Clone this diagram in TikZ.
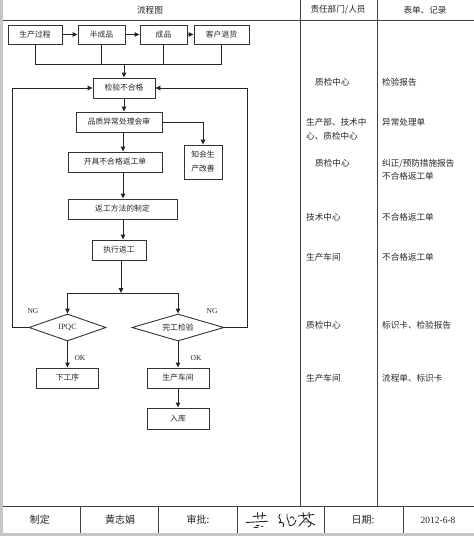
\documentclass[tikz,border=0pt]{standalone}
\usepackage{fontspec}
\setmainfont{Liberation Serif}
\newfontfamily\cjk{Noto Sans CJK SC}
\usetikzlibrary{shapes.geometric,arrows.meta}
\begin{document}
\begin{tikzpicture}[x=1pt,y=-1pt,
  box/.style={draw=black!80, line width=0.9pt, inner sep=0pt, font=\cjk\fontsize{7.8}{14}\selectfont, align=center, text=black!85},
  dia/.style={draw=black!80, line width=0.9pt, diamond, inner sep=0pt, aspect=2.9, font=\fontsize{8}{10}\selectfont, text=black!85},
  arr/.style={draw=black!85, line width=0.9pt, -{Triangle[length=5pt,width=4.5pt]}},
  ln/.style={draw=black!85, line width=0.9pt},
  grid/.style={draw=black!75, line width=0.8pt},
  col/.style={anchor=west, font=\cjk\fontsize{8.6}{13.5}\selectfont, align=left, text=black!85, inner sep=0pt},
  hdr/.style={font=\cjk\fontsize{8.6}{10}\selectfont, text=black!85, inner sep=0pt},
  foot/.style={font=\cjk\fontsize{10}{12}\selectfont, text=black!85, inner sep=0pt},
  lab/.style={font=\fontsize{7.5}{9}\selectfont, text=black!85, inner sep=0pt},
  sig/.style={draw=black!85, line width=0.9pt, line cap=round, line join=round}
]
\useasboundingbox (0,0) rectangle (474,536);
\fill[white] (0,0) rectangle (474,536);
% table frame
\fill[gray!45] (0,0) rectangle (3,536);
\fill[gray!45] (0,533) rectangle (474,536);
\draw[grid] (3,20) -- (474,20);
\draw[grid] (300,0) -- (300,506);
\draw[grid] (377,0) -- (377,506);
\draw[grid] (3,506) -- (474,506);
\foreach \x in {80,158,237,324,403} \draw[grid] (\x,506) -- (\x,533);
% headers
\node[hdr] (h1) at (150,10) {流程图};
\node[hdr] (h2) at (338,10) {责任部门/人员};
\node[hdr] (h3) at (425,10) {表单、记录};
% footer
\node[foot] (f1) at (40,520) {制定};
\node[foot] (f2) at (120,520) {黄志娟};
\node[foot] (f3) at (198,520) {审批:};
\node[foot] (f5) at (363,520) {日期:};
\node[foot, font=\fontsize{9.5}{11}\selectfont] (f6) at (438,520) {2012-6-8};
% signature strokes
\draw[sig] (246,522.5) .. controls (255,522) .. (268,521.2);
\draw[sig] (253,516.5) -- (266,515.5);
\draw[sig] (257.5,512.5) -- (258,519);
\draw[sig] (262.5,512.5) -- (262,519);
\draw[sig] (256,525.5) -- (259,525.3);
\draw[sig] (261.5,526) -- (263,526);
\draw[sig] (254,527.5) -- (258,527.3);
\draw[sig] (280,514) .. controls (276,519) and (284,518) .. (279,523) .. controls (283,521) and (285,524) .. (283,527);
\draw[sig] (287,514) .. controls (286,519) and (290,522) .. (289,525) .. controls (292,527) and (295,524) .. (296,520);
\draw[sig] (290,518) .. controls (292,516) .. (294,519);
\draw[sig] (298,516) -- (314,514.5);
\draw[sig] (303,512.5) -- (304,519);
\draw[sig] (309,512) -- (309.5,518);
\draw[sig] (306,518) .. controls (303,522) .. (299,526);
\draw[sig] (306,518) .. controls (309,522) .. (315,525);
\draw[sig] (304,522) -- (311,522) .. controls (311,525) .. (308,527);
% flow nodes
\node[box, minimum width=54pt, minimum height=19pt] (sc) at (35,34.5) {生产过程};
\node[box, minimum width=47pt, minimum height=19pt] (bcp) at (101.5,34.5) {半成品};
\node[box, minimum width=47pt, minimum height=19pt] (cp) at (163.5,34.5) {成品};
\node[box, minimum width=55pt, minimum height=19pt] (kh) at (221.5,34.5) {客户退货};
\node[box, minimum width=62pt, minimum height=20pt] (jy) at (124,88) {检验不合格};
\node[box, minimum width=86pt, minimum height=20pt] (pz) at (119,122) {品质异常处理会审};
\node[box, minimum width=38pt, minimum height=34pt] (zh) at (203,162) {知会生\\产改善};
\node[box, minimum width=94pt, minimum height=20pt] (kj) at (115,162) {开具不合格返工单};
\node[box, minimum width=109pt, minimum height=20pt] (fg) at (122.5,209) {返工方法的制定};
\node[box, minimum width=54pt, minimum height=20pt] (zx) at (119,250) {执行返工};
\node[dia, minimum width=77pt, minimum height=27pt] (ipqc) at (67.5,327.5) {IPQC};
\node[dia, minimum width=92pt, minimum height=27pt, font=\cjk\fontsize{7.8}{10}\selectfont] (wg) at (178,327.5) {完工检验};
\node[box, minimum width=62pt, minimum height=20pt] (xgx) at (67.5,378) {下工序};
\node[box, minimum width=62pt, minimum height=20pt] (scj) at (178,378) {生产车间};
\node[box, minimum width=62pt, minimum height=21pt] (rk) at (178,418.5) {入库};
% labels
\node[lab] (ng1) at (33,311) {NG};
\node[lab] (ng2) at (212,311) {NG};
\node[lab] (ok1) at (80,358) {OK};
\node[lab] (ok2) at (196,358) {OK};
% connectors
\coordinate (bus) at (124,64);
\coordinate (ax) at (123,0);
\coordinate (split) at (121,293);
\draw[arr] (sc.east) -- (bcp.west);
\draw[arr] (bcp.east) -- (cp.west);
\draw[arr] (cp.east) -- (kh.west);
\draw[ln] (sc.south) |- (kh.south |- bus) -- (kh.south);
\draw[ln] (bcp.south) -- (bcp.south |- bus);
\draw[ln] (cp.south) -- (cp.south |- bus);
\draw[arr] (bus) -- (jy.north);
\draw[arr] (jy.south) -- (jy.south |- pz.north);
\draw[arr] (pz.east) -| (zh.north);
\draw[arr] (ax |- pz.south) -- (ax |- kj.north);
\draw[arr] (ax |- kj.south) -- (ax |- fg.north);
\draw[arr] (ax |- fg.south) -- (ax |- zx.north);
\draw[arr] (split |- zx.south) -- (split);
\draw[ln] (ipqc.north |- split) -- (wg.north |- split);
\draw[arr] (ipqc.north |- split) -- (ipqc.north);
\draw[arr] (wg.north |- split) -- (wg.north);
\draw[arr] (ipqc.south) -- (xgx.north);
\draw[arr] (wg.south) -- (scj.north);
\draw[arr] (scj.south) -- (rk.north);
\draw[arr] (ipqc.west) -- ++(-16,0) |- (jy.west);
\draw[arr] (wg.east) -- ++(23,0) |- (jy.east);
% right columns
\node[col] (r1) at (315,82) {质检中心};
\node[col] (r2) at (306,129) {生产部、技术中\\心、质检中心};
\node[col] (r3) at (315,163) {质检中心};
\node[col] (r4) at (306,217) {技术中心};
\node[col] (r5) at (306,257) {生产车间};
\node[col] (r6) at (306,325) {质检中心};
\node[col] (r7) at (306,378) {生产车间};
\node[col] (s1) at (382,82) {检验报告};
\node[col] (s2) at (382,122) {异常处理单};
\node[col] (s3) at (382,169.5) {纠正/预防措施报告\\不合格返工单};
\node[col] (s4) at (382,217) {不合格返工单};
\node[col] (s5) at (382,257) {不合格返工单};
\node[col] (s6) at (382,325) {标识卡、检验报告};
\node[col] (s7) at (382,378) {流程单、标识卡};
\end{tikzpicture}
\end{document}
